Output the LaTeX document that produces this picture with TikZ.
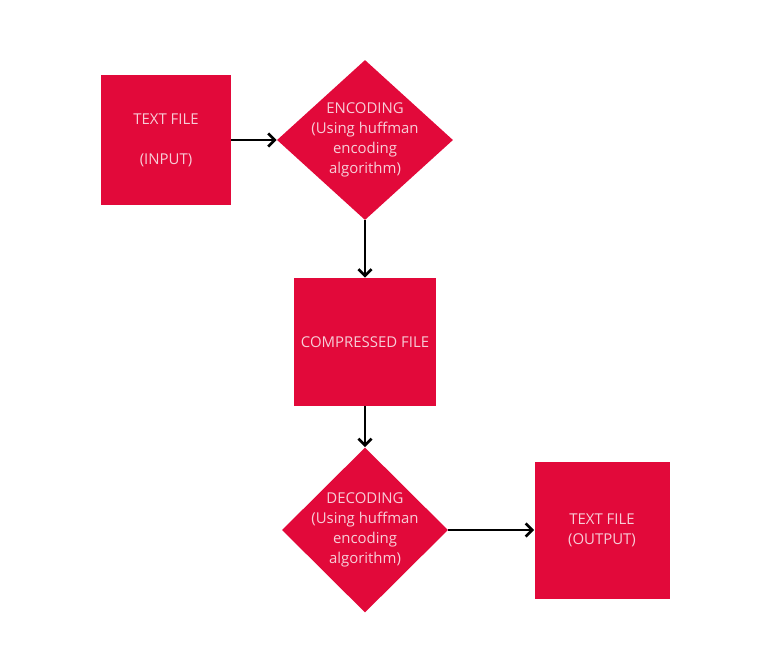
\documentclass[tikz,border=0pt]{standalone}
\usepackage{fontspec}
\setmainfont{Open Sans}
\usetikzlibrary{shapes.geometric}
\usetikzlibrary{arrows.meta}
\definecolor{boxred}{HTML}{E2093A}
\definecolor{boxtext}{HTML}{F7CDD7}

\begin{document}
\begin{tikzpicture}[x=0.75pt, y=-0.75pt,
  box/.style={fill=boxred, text=boxtext, align=center, font=\fontsize{11.2}{15}\selectfont},
  dia/.style={box, diamond, inner sep=-9pt},
  arr/.style={-{Straight Barb[length=5pt, width=10pt]}, line width=2pt, black}]
\useasboundingbox (0,0) rectangle (768,658);
\node(A) [box, minimum width=130*0.75pt, minimum height=130*0.75pt] at (166,140) {TEXT FILE\\[15pt](INPUT)};
\node(B) [dia, minimum width=176*0.75pt, minimum height=160*0.75pt] at (365,140) {ENCODING\\(Using huffman\\encoding\\algorithm)};
\node(C) [box, minimum width=142*0.75pt, minimum height=128*0.75pt] at (365,342) {COMPRESSED FILE};
\node(D) [dia, minimum width=166*0.75pt, minimum height=165*0.75pt] at (365,530) {DECODING\\(Using huffman\\encoding\\algorithm)};
\node(E) [box, minimum width=135*0.75pt, minimum height=137*0.75pt] at (602,530) {TEXT FILE\\(OUTPUT)};
\draw[arr] (A.east) -- (B.west);
\draw[arr] (B.south) -- (C.north);
\draw[arr] (C.south) -- (D.north);
\draw[arr] (D.east) -- (E.west);
\end{tikzpicture}
\end{document}
